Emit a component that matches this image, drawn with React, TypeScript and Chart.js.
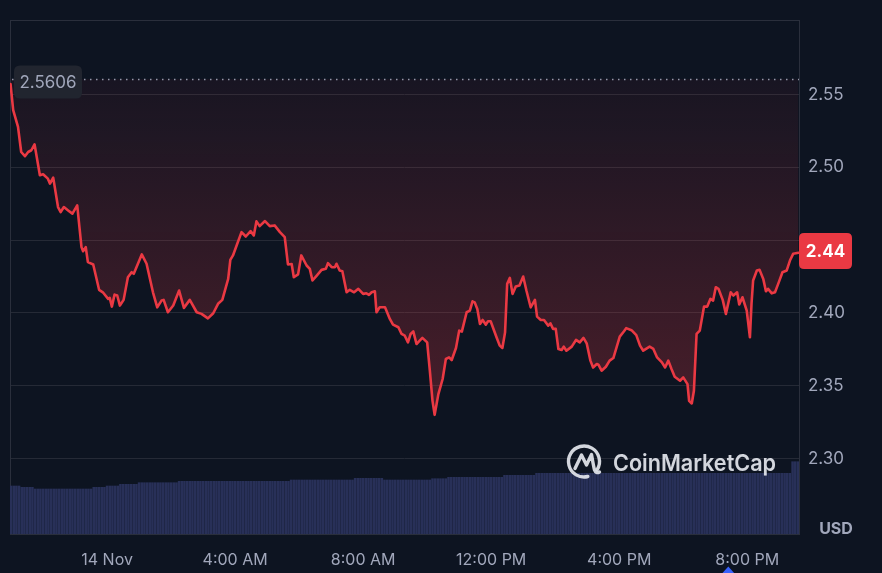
import React, { useEffect, useRef } from "react";
import { Chart, registerables } from "chart.js";

Chart.register(...registerables);

// Minutes relative to 14 Nov 00:00
const priceTimes = [
  -181, -176, -167, -161, -154, -148, -142, -136, -126, -120,
  -111, -107, -101, -92, -87, -81, -73, -65, -56, -48,
  -45, -40, -36, -26, -15, -8, 2, 5, 9, 14,
  19, 24, 31, 39, 46, 50, 65, 74, 86, 94,
  102, 106, 114, 124, 135, 144, 155, 168, 177, 189,
  199, 208, 216, 227, 231, 236, 244, 252, 260, 269,
  275, 280, 286, 296, 305, 314, 324, 333, 339, 346,
  350, 358, 364, 374, 380, 385, 393, 402, 410, 414,
  421, 427, 430, 436, 441, 449, 455, 463, 471, 480,
  486, 491, 496, 502, 505, 511, 521, 530, 536, 546,
  552, 558, 564, 569, 574, 580, 586, 591, 600, 605,
  610, 614, 621, 629, 635, 641, 646, 654, 660, 665,
  674, 680, 685, 689, 694, 699, 704, 710, 714, 719,
  730, 736, 741, 746, 750, 755, 760, 766, 773, 780,
  786, 794, 802, 806, 813, 819, 827, 831, 836, 841,
  846, 852, 856, 861, 871, 879, 886, 893, 899, 906,
  911, 918, 921, 927, 935, 942, 949, 955, 961, 969,
  973, 983, 992, 999, 1005, 1017, 1024, 1031, 1040, 1046,
  1052, 1058, 1064, 1074, 1080, 1088, 1091, 1096, 1100, 1105,
  1111, 1119, 1125, 1131, 1136, 1141, 1146, 1154, 1160, 1169,
  1174, 1181, 1185, 1191, 1199, 1205, 1208, 1211, 1218, 1223,
  1230, 1235, 1239, 1246, 1252, 1258, 1266, 1274, 1280, 1286,
  1296,
];

const prices = [
  2.5571, 2.5392, 2.5277, 2.5105, 2.5076, 2.5105, 2.5117, 2.5158, 2.4945, 2.4952,
  2.4922, 2.4888, 2.4929, 2.4727, 2.4693, 2.4727, 2.4704, 2.4682, 2.4739, 2.4452,
  2.4424, 2.4452, 2.4349, 2.4333, 2.4159, 2.4142, 2.4097, 2.4104, 2.4044, 2.4126,
  2.412, 2.4051, 2.409, 2.4245, 2.428, 2.4269, 2.4402, 2.4338, 2.4142, 2.4039,
  2.4085, 2.409, 2.4005, 2.4051, 2.4154, 2.4035, 2.409, 2.4005, 2.3994, 2.3963,
  2.3998, 2.4063, 2.409, 2.4234, 2.4365, 2.4395, 2.4475, 2.4555, 2.4525, 2.4562,
  2.4532, 2.4629, 2.4596, 2.4631, 2.4596, 2.4601, 2.4555, 2.4521, 2.4333, 2.4336,
  2.4245, 2.4265, 2.4395, 2.4326, 2.4303, 2.4223, 2.4257, 2.4296, 2.4303, 2.4342,
  2.4314, 2.4314, 2.4338, 2.4292, 2.4287, 2.4142, 2.4159, 2.4142, 2.4166, 2.4131,
  2.4135, 2.4124, 2.4142, 2.4149, 2.4005, 2.4039, 2.4039, 2.3959, 2.392, 2.3902,
  2.3856, 2.3844, 2.3798, 2.3856, 2.3874, 2.3787, 2.381, 2.3829, 2.3798, 2.3604,
  2.3397, 2.3301, 2.3443, 2.3547, 2.3684, 2.3695, 2.3677, 2.376, 2.3879, 2.3872,
  2.4005, 2.4016, 2.408, 2.4073, 2.4028, 2.3925, 2.3952, 2.392, 2.3943, 2.3943,
  2.3833, 2.3776, 2.376, 2.3867, 2.42, 2.4241, 2.4131, 2.4181, 2.4188, 2.425,
  2.4154, 2.4039, 2.409, 2.3975, 2.3952, 2.3952, 2.3913, 2.3929, 2.3891, 2.3891,
  2.3753, 2.3746, 2.3769, 2.3741, 2.3769, 2.3815, 2.3798, 2.3829, 2.3792, 2.3673,
  2.3626, 2.365, 2.3645, 2.3604, 2.3631, 2.3673, 2.3691, 2.3764, 2.3838, 2.3875,
  2.3896, 2.3882, 2.3848, 2.3776, 2.3741, 2.3769, 2.3753, 2.3695, 2.3661, 2.3626,
  2.3673, 2.3615, 2.3562, 2.3535, 2.3558, 2.3512, 2.3397, 2.3379, 2.3466, 2.3856,
  2.3879, 2.4044, 2.4044, 2.4097, 2.4085, 2.4177, 2.4166, 2.409, 2.3994, 2.4142,
  2.412, 2.4142, 2.4058, 2.4108, 2.4016, 2.3833, 2.4063, 2.4223, 2.4292, 2.4296,
  2.4234, 2.4149, 2.4166, 2.4135, 2.4142, 2.42, 2.428, 2.4292, 2.436, 2.4406,
  2.4413,
];

// 24h volume (billions USD), one bar every 5 minutes starting 13 Nov 21:00
const volumeStart = -180;
const volumeStep = 5;
const volumes = [
  4.8, 4.8, 4.8, 4.8, 4.67, 4.67, 4.67, 4.67, 4.67,
  4.5, 4.5, 4.5, 4.5, 4.5, 4.5, 4.5, 4.5, 4.5, 4.5, 4.5,
  4.5, 4.5, 4.5, 4.5, 4.5, 4.5, 4.5, 4.5, 4.5, 4.5, 4.5,
  4.67, 4.67, 4.67, 4.67, 4.67, 4.8, 4.8, 4.8, 4.8, 4.8,
  4.97, 4.97, 4.97, 4.97, 4.97, 4.97, 4.97,
  5.13, 5.13, 5.13, 5.13, 5.13, 5.13, 5.13, 5.13, 5.13, 5.13, 5.13, 5.13, 5.13, 5.13, 5.13,
  5.27, 5.27, 5.27, 5.27, 5.27, 5.27, 5.27, 5.27, 5.27, 5.27, 5.27, 5.27, 5.27, 5.27,
  5.27, 5.27, 5.27, 5.27, 5.27, 5.27, 5.27, 5.27, 5.27, 5.27, 5.27, 5.27, 5.27, 5.27,
  5.27, 5.27, 5.27, 5.27, 5.27, 5.27, 5.27, 5.27, 5.27, 5.27, 5.27, 5.27, 5.27, 5.27,
  5.4, 5.4, 5.4, 5.4, 5.4, 5.4, 5.4, 5.4, 5.4, 5.4, 5.4, 5.4,
  5.4, 5.4, 5.4, 5.4, 5.4, 5.4, 5.4, 5.4, 5.4, 5.4, 5.4, 5.4,
  5.57, 5.57, 5.57, 5.57, 5.57, 5.57, 5.57, 5.57, 5.57, 5.57, 5.57,
  5.4, 5.4, 5.4, 5.4, 5.4, 5.4, 5.4, 5.4, 5.4, 5.4, 5.4, 5.4, 5.4, 5.4, 5.4, 5.4, 5.4, 5.4,
  5.53, 5.53, 5.53, 5.53, 5.53, 5.53,
  5.67, 5.67, 5.67, 5.67, 5.67, 5.67, 5.67, 5.67, 5.67, 5.67, 5.67,
  5.67, 5.67, 5.67, 5.67, 5.67, 5.67, 5.67, 5.67, 5.67, 5.67,
  5.87, 5.87, 5.87, 5.87, 5.87, 5.87, 5.87, 5.87, 5.87, 5.87, 5.87, 5.87,
  6.07, 6.07, 6.07, 6.07, 6.07, 6.07, 6.07, 6.07, 6.07, 6.07, 6.07, 6.07,
  6.07, 6.07, 6.07, 6.07, 6.07, 6.07, 6.07, 6.07, 6.07, 6.07, 6.07, 6.07,
  6.07, 6.07, 6.07, 6.07, 6.07, 6.07, 6.07, 6.07, 6.07, 6.07, 6.07, 6.07,
  6.07, 6.07, 6.07, 6.07, 6.07, 6.07, 6.07, 6.07, 6.07, 6.07, 6.07, 6.07,
  6.07, 6.07, 6.07, 6.07, 6.07, 6.07, 6.07, 6.07, 6.07, 6.07, 6.07, 6.07,
  6.07, 6.07, 6.07, 6.07, 6.07, 6.07, 6.07, 6.07, 6.07, 6.07, 6.07, 6.07,
  6.07, 6.07, 6.07, 6.07, 6.07, 6.07, 6.07, 6.07, 6.07, 6.07, 6.07, 6.07,
  6.07, 6.07, 6.07, 6.07, 6.07, 6.07, 6.07, 6.07, 6.07, 6.07, 6.07, 6.07,
  7.23, 7.23, 7.23,
];

const openPrice = 2.5606;
const lastPriceLabel = "2.44";
const yTicks = [2.3, 2.35, 2.4, 2.45, 2.5, 2.55];
const hiddenYLabels = [2.45]; // covered by the last-price badge
const xTickTimes = [0, 240, 480, 720, 960, 1200];
const xTickLabels = ["14 Nov", "4:00 AM", "8:00 AM", "12:00 PM", "4:00 PM", "8:00 PM"];

const BG = "#0d1421";
const RED = "#ea3943";
const TEXT = "#a1a7bb";
const GRID = "#252a36";
const FONT = "Inter, 'Noto Sans', sans-serif";

function roundRect(c: CanvasRenderingContext2D, x: number, y: number, w: number, h: number, r: number) {
  c.beginPath();
  c.moveTo(x + r, y);
  c.lineTo(x + w - r, y);
  c.quadraticCurveTo(x + w, y, x + w, y + r);
  c.lineTo(x + w, y + h - r);
  c.quadraticCurveTo(x + w, y + h, x + w - r, y + h);
  c.lineTo(x + r, y + h);
  c.quadraticCurveTo(x, y + h, x, y + h - r);
  c.lineTo(x, y + r);
  c.quadraticCurveTo(x, y, x + r, y);
  c.closePath();
}

const overlayPlugin = {
  id: "cmcOverlay",
  beforeDatasetsDraw(chart: any) {
    const c = chart.ctx as CanvasRenderingContext2D;
    const a = chart.chartArea;
    c.save();
    c.strokeStyle = "#2a2f3c";
    c.lineWidth = 1;
    c.strokeRect(Math.round(a.left) + 0.5, Math.round(a.top) + 0.5, Math.round(a.right - a.left), Math.round(a.bottom - a.top));
    c.restore();
  },
  afterDatasetsDraw(chart: any) {
    const c = chart.ctx as CanvasRenderingContext2D;
    const a = chart.chartArea;
    const y = chart.scales.y;
    const yOpen = Math.round(y.getPixelForValue(openPrice)) + 0.5;
    c.save();
    // dotted open-price line
    c.strokeStyle = "rgba(170,176,195,0.85)";
    c.lineWidth = 1.5;
    c.setLineDash([1.5, 4.5]);
    c.beginPath();
    c.moveTo(a.left + 2, yOpen);
    c.lineTo(a.right, yOpen);
    c.stroke();
    c.setLineDash([]);
    // open price label
    roundRect(c, a.left + 4, yOpen - 14, 68, 33, 6);
    c.fillStyle = "#21252f";
    c.fill();
    c.fillStyle = TEXT;
    c.font = `17px ${FONT}`;
    c.textAlign = "center";
    c.textBaseline = "middle";
    c.fillText(openPrice.toFixed(4), a.left + 38, yOpen + 3);

    // CoinMarketCap watermark
    const lc = "rgba(228,231,238,0.92)";
    const cx = 584, cy = 461.5, r = 15.5;
    c.strokeStyle = lc;
    c.lineWidth = 3.4;
    c.lineCap = "round";
    c.lineJoin = "round";
    c.beginPath();
    c.arc(cx, cy, r, Math.PI * 0.42, Math.PI * 0.18 + Math.PI * 2);
    c.stroke();
    c.beginPath();
    c.moveTo(575, 468.5);
    c.lineTo(581.5, 455);
    c.lineTo(586.5, 465);
    c.lineTo(591.5, 454.5);
    c.quadraticCurveTo(593.5, 466, 594.5, 470);
    c.quadraticCurveTo(596, 474, 599.5, 472);
    c.stroke();
    c.fillStyle = lc;
    c.font = `600 23px ${FONT}`;
    c.textAlign = "left";
    c.textBaseline = "alphabetic";
    const txt = "CoinMarketCap";
    const w = c.measureText(txt).width;
    const target = 163;
    c.translate(613, 471);
    c.scale(target / w, 1);
    c.fillText(txt, 0, 0);
    c.restore();
  },
  afterDraw(chart: any) {
    const c = chart.ctx as CanvasRenderingContext2D;
    const a = chart.chartArea;
    c.save();
    // last price badge
    roundRect(c, a.right, 233, 53, 36, 5);
    c.fillStyle = RED;
    c.fill();
    c.fillStyle = "#ffffff";
    c.font = `bold 17px ${FONT}`;
    c.textAlign = "center";
    c.textBaseline = "middle";
    c.fillText(lastPriceLabel, a.right + 26.5, 252);
    // USD
    c.fillStyle = TEXT;
    c.font = `bold 16px ${FONT}`;
    c.fillText("USD", 836, 529);
    // marker triangle
    c.fillStyle = "#3861fb";
    c.beginPath();
    c.moveTo(728.3, 566.5);
    c.lineTo(735, 574);
    c.lineTo(721.6, 574);
    c.closePath();
    c.fill();
    c.restore();
  },
};

export default function App() {
  const ref = useRef<HTMLCanvasElement | null>(null);

  useEffect(() => {
    if (!ref.current) return;
    const linePoints = priceTimes.map((t, i) => ({ x: t, y: prices[i] }));
    const volPoints = volumes.map((v, i) => ({ x: volumeStart + i * volumeStep, y: v }));

    const chart = new Chart(ref.current, {
      type: "line",
      data: {
        datasets: [
          {
            type: "line",
            data: linePoints,
            xAxisID: "x",
            yAxisID: "y",
            borderColor: RED,
            borderWidth: 2.6,
            borderJoinStyle: "round",
            borderCapStyle: "round",
            pointRadius: 0,
            tension: 0,
            order: 0,
            fill: { value: openPrice },
            backgroundColor: (ctx: any) => {
              const ch = ctx.chart;
              if (!ch.chartArea || !ch.scales.y) return "rgba(234,57,67,0.15)";
              const y0 = ch.scales.y.getPixelForValue(openPrice);
              const y1 = ch.scales.y.getPixelForValue(2.33);
              const g = ch.ctx.createLinearGradient(0, y0, 0, y1);
              g.addColorStop(0, "rgba(234,57,67,0.05)");
              g.addColorStop(1, "rgba(234,57,67,0.27)");
              return g;
            },
          } as any,
          {
            type: "bar",
            data: volPoints,
            xAxisID: "x",
            yAxisID: "v",
            backgroundColor: "#283058",
            barThickness: 1.9,
            order: 1,
          } as any,
        ],
      },
      options: {
        animation: false,
        responsive: false,
        devicePixelRatio: 1,
        layout: { padding: { left: 10, top: 20, right: 0, bottom: 0 } },
        plugins: { legend: { display: false }, tooltip: { enabled: false } },
        events: [],
        scales: {
          x: {
            type: "linear",
            min: -182,
            max: 1297,
            offset: false,
            afterBuildTicks: (s: any) => {
              s.ticks = xTickTimes.map((v) => ({ value: v }));
            },
            afterFit: (s: any) => {
              s.height = 39;
            },
            ticks: {
              autoSkip: false,
              maxRotation: 0,
              color: TEXT,
              padding: 17,
              font: { family: FONT, size: 16 },
              callback: (v: any) => xTickLabels[xTickTimes.indexOf(Number(v))] ?? "",
            },
            grid: { display: false, drawTicks: false },
            border: { display: false },
          },
          y: {
            type: "linear",
            position: "right",
            min: 2.2483,
            max: 2.6011,
            afterBuildTicks: (s: any) => {
              s.ticks = yTicks.map((v) => ({ value: v }));
            },
            afterFit: (s: any) => {
              s.width = 83;
            },
            ticks: {
              color: TEXT,
              padding: 9,
              font: { family: FONT, size: 17 },
              callback: (v: any) => (hiddenYLabels.includes(Number(v)) ? "" : Number(v).toFixed(2)),
            },
            grid: { color: GRID, lineWidth: 1, drawTicks: false },
            border: { display: false },
          },
          v: {
            type: "linear",
            display: false,
            min: 0,
            max: 51.4,
          },
        },
      } as any,
      plugins: [overlayPlugin],
    });
    return () => chart.destroy();
  }, []);

  return (
    <div style={{ position: "fixed", left: 0, top: 0, width: 882, height: 573, background: BG }}>
      <canvas ref={ref} width={882} height={573} style={{ display: "block", width: 882, height: 573 }} />
    </div>
  );
}
